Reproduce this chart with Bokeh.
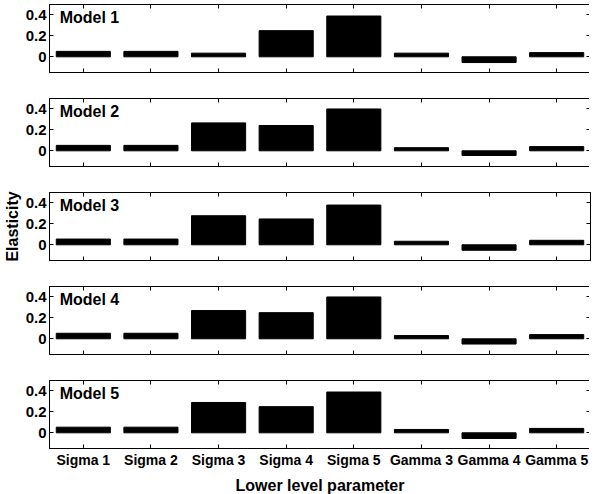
from bokeh.plotting import figure
from bokeh.layouts import column
from bokeh.models import (FactorRange, Range1d, LinearAxis, CategoricalAxis, FixedTicker, Label,
                          CustomLabelingPolicy)
from bokeh.embed import file_html
from bokeh.resources import INLINE

categories = ["Sigma 1", "Sigma 2", "Sigma 3", "Sigma 4", "Sigma 5", "Gamma 3", "Gamma 4", "Gamma 5"]
model_names = ["Model 1", "Model 2", "Model 3", "Model 4", "Model 5"]
model1 = [0.052, 0.052, 0.035, 0.25, 0.39, 0.035, -0.055, 0.04]
model2 = [0.052, 0.052, 0.267, 0.242, 0.40, 0.03, -0.045, 0.04]
model3 = [0.055, 0.055, 0.278, 0.247, 0.38, 0.034, -0.052, 0.043]
model4 = [0.053, 0.053, 0.27, 0.25, 0.40, 0.031, -0.05, 0.04]
model5 = [0.054, 0.054, 0.29, 0.25, 0.39, 0.032, -0.054, 0.042]
models = [model1, model2, model3, model4, model5]
y_ticks = [0, 0.2, 0.4]
y_tick_labels = {0: "0", 0.2: "0.2", 0.4: "0.4"}
y_min, y_max = -0.15, 0.5

FONT = "Liberation Sans"
NO_LABELS = "for (const i of indices) indices.unset(i)"


def style_axis(ax, show_labels, size="15px"):
    ax.axis_line_color = "black"
    ax.major_tick_in = 4
    ax.major_tick_out = 0
    ax.major_tick_line_color = "black"
    ax.minor_tick_line_color = None
    ax.major_label_text_font = FONT
    ax.major_label_text_font_style = "bold"
    ax.major_label_text_color = "black"
    ax.major_label_text_font_size = size
    if show_labels:
        ax.major_label_standoff = 3
    else:
        ax.major_label_text_font_size = "1px"
        ax.major_label_standoff = 0
        ax.major_label_policy = CustomLabelingPolicy(code=NO_LABELS)


figs = []
n = len(models)
for i, (name, vals) in enumerate(zip(model_names, models)):
    last = i == n - 1
    p = figure(
        x_range=FactorRange(*categories),
        y_range=Range1d(y_min, y_max),
        frame_width=541,
        frame_height=68,
        output_backend="svg",
        toolbar_location=None,
        min_border_left=44,
        min_border_right=2,
        min_border_top=3,
        min_border_bottom=22 if not last else 4,
        background_fill_color="white",
        border_fill_color="white",
    )
    p.outline_line_color = "black"
    p.outline_line_width = 1
    p.xgrid.visible = False
    p.ygrid.visible = False

    p.vbar(x=categories, top=vals, bottom=0, width=0.8, fill_color="black", line_color="black")

    left = p.left[0]
    bottom = p.below[0]
    left.ticker = FixedTicker(ticks=y_ticks)
    left.major_label_overrides = y_tick_labels
    style_axis(left, True, "15px")
    style_axis(bottom, last, "14px")

    right = LinearAxis(ticker=FixedTicker(ticks=y_ticks))
    style_axis(right, False)
    p.add_layout(right, "right")
    top = CategoricalAxis()
    style_axis(top, False)
    p.add_layout(top, "above")

    if i == 2:
        left.axis_label = "Elasticity"
        left.axis_label_text_font = FONT
        left.axis_label_text_font_style = "bold"
        left.axis_label_text_font_size = "16px"
        left.axis_label_text_color = "black"
        left.axis_label_standoff = 2
    if last:
        bottom.axis_label = "Lower level parameter"
        bottom.axis_label_text_font = FONT
        bottom.axis_label_text_font_style = "bold"
        bottom.axis_label_text_font_size = "16px"
        bottom.axis_label_text_color = "black"
        bottom.axis_label_standoff = 6

    p.add_layout(Label(x=0.15, y=0.38, text=name, text_font=FONT, text_font_style="bold",
                       text_font_size="16px", text_baseline="middle", text_color="black"))
    figs.append(p)

layout = column(*figs, spacing=0)
open("out.html", "w").write(file_html(layout, INLINE))
